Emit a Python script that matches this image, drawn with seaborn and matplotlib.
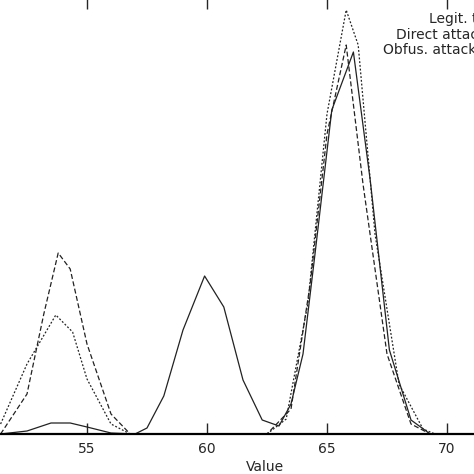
import matplotlib
matplotlib.use("Agg")
import matplotlib.pyplot as plt
import seaborn as sns
import pandas as pd

# values (y in arbitrary density units)
legit_x = [51.4, 52.5, 53.5, 54.3, 55.0, 56.0, 57.0, 57.5, 58.2, 59.0, 59.9, 60.7, 61.5, 62.3, 63.0,
           63.5, 64.0, 64.5, 65.2, 66.1, 66.8, 67.6, 68.5, 69.3]
legit_y = [0, 3, 11, 11, 7, 1, 0, 6, 38, 104, 158, 127, 54, 14, 8,
           30, 80, 180, 324, 382, 254, 84, 14, 0]
direct_x = [51.4, 52.5, 53.2, 53.8, 54.3, 55.0, 56.0, 56.8, 62.5, 63.5, 64.3, 65.0, 65.8, 66.5, 67.5, 68.5, 69.3]
direct_y = [0, 40, 120, 181, 165, 90, 20, 0, 0, 25, 150, 300, 389, 250, 80, 10, 0]
obfus_x = [51.4, 52.5, 53.7, 54.4, 55.0, 56.0, 56.8, 62.5, 63.3, 64.2, 65.0, 65.8, 66.3, 67.0, 68.0, 69.0, 69.5]
obfus_y = [10, 70, 119, 102, 55, 10, 0, 0, 15, 130, 320, 424, 389, 200, 50, 5, 0]

sns.set_style("white")
fig = plt.figure(figsize=(4.74, 4.74), dpi=100)
ax = fig.add_axes([0, 40 / 474, 1, 436 / 474])
ax.set_ylim(0, 436)

for xs, ys, style in [(legit_x, legit_y, "-"), (direct_x, direct_y, (0, (4, 2))), (obfus_x, obfus_y, (0, (1.5, 1.5)))]:
    df = pd.DataFrame({"x": xs, "y": ys})
    sns.lineplot(data=df, x="x", y="y", ax=ax, color="#222222", linewidth=0.9, linestyle=style)

ax.set_xlim(51.375, 71.125)
ax.set_xticks([55, 60, 65, 70])
ax.set_yticks([])
ax.tick_params(axis="x", direction="in", length=8, top=True, bottom=True, labelsize=10, pad=6, width=1)
ax.set_xlabel("")
ax.set_ylabel("")
for s in ["left", "right", "top"]:
    ax.spines[s].set_visible(False)
ax.spines["bottom"].set_linewidth(1.6)
ax.spines["bottom"].set_color("black")

fig.text(265 / 474, 1 - 467 / 474, "Value", ha="center", va="center", fontsize=10)
fig.text(429 / 474, 1 - 19 / 474, "Legit. traffic", ha="left", va="center", fontsize=10)
fig.text(396 / 474, 1 - 35 / 474, "Direct attack", ha="left", va="center", fontsize=10)
fig.text(383 / 474, 1 - 50 / 474, "Obfus. attack", ha="left", va="center", fontsize=10)

fig.savefig("out.png", dpi=100)
